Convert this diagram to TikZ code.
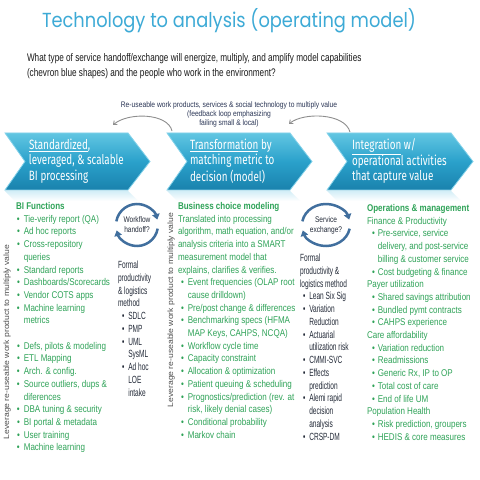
\documentclass[tikz,border=0pt]{standalone}
\usepackage{fontspec}
\setmainfont{Liberation Sans}
\usetikzlibrary{arrows.meta}
\newfontfamily\grfont[FakeStretch=0.82]{Liberation Sans}
\newfontfamily\dkfont[FakeStretch=0.63]{Liberation Sans}
\newfontfamily\qfont[FakeStretch=0.745]{Liberation Sans}
\newfontfamily\fbfont[FakeStretch=0.84]{Liberation Sans}
\newfontfamily\cyfont[FakeStretch=0.8]{Liberation Sans}
\newfontfamily\chevfont[FakeStretch=0.73]{Fira Sans}
\newfontfamily\titlefont{Poppins}
\definecolor{titleblue}{HTML}{3DAAD6}
\definecolor{grtext}{HTML}{2FA358}
\definecolor{dktext}{HTML}{232A38}
\definecolor{qtext}{HTML}{1A1A1A}
\definecolor{navytext}{HTML}{2B3656}
\definecolor{vtext}{HTML}{505050}
\definecolor{cyccol}{HTML}{416F9E}
\definecolor{fbgray}{HTML}{8E8E8E}
\definecolor{chtop}{HTML}{62C6E2}
\definecolor{chmid}{HTML}{2AA1CB}
\definecolor{chbot}{HTML}{1A82AD}
\definecolor{chedge}{HTML}{84D2EA}
\definecolor{chref}{HTML}{D3EEF7}
\newcommand{\ml}[1]{\multicolumn{2}{@{}l@{}}{#1}}
\newcommand{\bu}{\textbullet}
\tikzset{
  txt/.style={inner sep=0pt, outer sep=0pt, anchor=base west},
  grlist/.style={txt, text=grtext, font=\grfont\fontsize{9.8bp}{12.7bp}\selectfont},
  dklist/.style={txt, text=dktext, font=\dkfont\fontsize{10.4bp}{12.75bp}\selectfont},
  chevron/.style={top color=chtop, bottom color=chbot, middle color=chmid, draw=chedge, line width=0.8bp},
  chevref/.style={top color=chref, bottom color=white},
  chevtext/.style={txt, text=white, font=\chevfont\fontsize{13.5bp}{15.5bp}\selectfont},
  cycarrow/.style={draw=cyccol, line width=2.5bp, -{Triangle[length=5.5bp,width=7.5bp]}},
  cyctext/.style={inner sep=0pt, text=dktext, font=\cyfont\fontsize{8.2bp}{10bp}\selectfont, align=center},
  fbarrow/.style={draw=fbgray, line width=0.9bp, -{Straight Barb[length=3bp,width=5bp]}},
  vlabel/.style={inner sep=0pt, rotate=90, text=vtext, font=\fontsize{8.6bp}{10bp}\selectfont},
}
\begin{document}
\begin{tikzpicture}[x=1bp,y=-1bp]
\useasboundingbox[fill=white] (0,0) rectangle (480,480);

% title and question
\node[txt, text=titleblue] (title) at (42,27.3) {\resizebox{374bp}{19bp}{\titlefont Technology to analysis (operating model)}};
\node[txt, text=qtext, font=\qfont\fontsize{11bp}{15bp}\selectfont] (question) at (27,62) {\begin{tabular}[t]{@{}l@{}}What type of service handoff/exchange will energize, multiply, and amplify model capabilities\\(chevron blue shapes) and the people who work in the environment?\end{tabular}};

% feedback label and arrows
\node[inner sep=0pt, anchor=base, text=navytext, font=\fbfont\fontsize{8bp}{9bp}\selectfont] (feedback) at (229,107.5) {\begin{tabular}[t]{@{}c@{}}Re-useable work products, services \& social technology to multiply value\\(feedback loop emphasizing\\failing small \& local)\end{tabular}};
\coordinate (fbAs) at (172,131);
\coordinate (fbAe) at (113,125);
\coordinate (fbBs) at (350,132);
\coordinate (fbBe) at (289,124);
\draw[fbarrow] (fbAs) .. controls (168,113) and (128,112) .. (fbAe);
\draw[fbarrow] (fbBs) .. controls (345,113) and (303,112) .. (fbBe);

% chevron reflections
\path[chevref] (5,191) -- (128,191) -- (138,201) -- (15,201) -- cycle;
\path[chevref] (167,191) -- (290,191) -- (300,201) -- (177,201) -- cycle;
\path[chevref] (327,191) -- (451,191) -- (461,201) -- (337,201) -- cycle;
% chevrons
\path[chevron] (5,133) -- (128,133) -- (150,161.5) -- (128,190) -- (5,190) -- (25,161.5) -- cycle;
\path[chevron] (167,133) -- (290,133) -- (312,161.5) -- (290,190) -- (167,190) -- (187,161.5) -- cycle;
\path[chevron] (327,133) -- (451,133) -- (473,161.5) -- (451,190) -- (327,190) -- (347,161.5) -- cycle;
\node[chevtext] (chevA) at (29,149.5) {\begin{tabular}[t]{@{}l@{}}\underline{Standardized},\\leveraged, \& scalable\\BI processing\end{tabular}};
\node[chevtext] (chevB) at (190,149.5) {\begin{tabular}[t]{@{}l@{}}\underline{Transformation} by\\matching metric to\\decision (model)\end{tabular}};
\node[chevtext] (chevC) at (352,149.5) {\begin{tabular}[t]{@{}l@{}}\underline{Integration} w/\\operational activities\\that capture value\end{tabular}};

% cycle icons
\begin{scope}[shift={(137,225)},yscale=-1]
  \draw[cycarrow] (170:21) arc[start angle=170,end angle=15,radius=21];
  \draw[cycarrow] (-10:21) arc[start angle=-10,end angle=-165,radius=21];
  \node[cyctext] (workflow) at (0,0) {Workflow\\handoff?};
\end{scope}
\begin{scope}[shift={(326,225)},yscale=-1]
  \draw[cycarrow] (170:24 and 21) arc[start angle=170,end angle=15,x radius=24,y radius=21];
  \draw[cycarrow] (-10:24 and 21) arc[start angle=-10,end angle=-165,x radius=24,y radius=21];
  \node[cyctext] (service) at (0,0) {Service\\exchange?};
\end{scope}

% vertical labels
\node[vlabel] (vleft) at (7,342) {\scalebox{1}[0.9]{Leverage re-useable work product to multiply value}};
\node[vlabel] (vmid) at (171,310) {\scalebox{1}[0.9]{Leverage re-useable work product to multiply value}};

% left list
\node[grlist] (bifun) at (16,209.5) {\begin{tabular}[t]{@{\hspace{1bp}}l@{\hspace{4bp}}l@{}}
\ml{\bfseries BI Functions}\\
\bu & Tie-verify report (QA)\\
\bu & Ad hoc reports\\
\bu & Cross-repository\\
 & queries\\
\bu & Standard reports\\
\bu & Dashboards/Scorecards\\
\bu & Vendor COTS apps\\
\bu & Machine learning\\
 & metrics\\
 & \\
\bu & Defs, pilots \& modeling\\
\bu & ETL Mapping\\
\bu & Arch. \& config.\\
\bu & Source outliers, dups \&\\
 & diferences\\
\bu & DBA tuning \& security\\
\bu & BI portal \& metadata\\
\bu & User training\\
\bu & Machine learning
\end{tabular}};

% formal productivity (workflow)
\node[dklist] (formalA) at (118,268.5) {\begin{tabular}[t]{@{\hspace{4bp}}l@{\hspace{4bp}}l@{}}
\ml{Formal}\\
\ml{productivity}\\
\ml{\& logistics}\\
\ml{method}\\
\bu & SDLC\\
\bu & PMP\\
\bu & UML\\
 & SysML\\
\bu & Ad hoc\\
 & LOE\\
 & intake
\end{tabular}};

% middle list
\node[grlist] (business) at (178,209.5) {\begin{tabular}[t]{@{\hspace{3bp}}l@{\hspace{4bp}}l@{}}
\ml{\bfseries Business choice modeling}\\
\ml{Translated into processing}\\
\ml{algorithm, math equation, and/or}\\
\ml{analysis criteria into a SMART}\\
\ml{measurement model that}\\
\ml{explains, clarifies \& verifies.}\\
\bu & Event frequencies (OLAP root\\
 & cause drilldown)\\
\bu & Pre/post change \& differences\\
\bu & Benchmarking specs (HFMA\\
 & MAP Keys, CAHPS, NCQA)\\
\bu & Workflow cycle time\\
\bu & Capacity constraint\\
\bu & Allocation \& optimization\\
\bu & Patient queuing \& scheduling\\
\bu & Prognostics/prediction (rev. at\\
 & risk, likely denial cases)\\
\bu & Conditional probability\\
\bu & Markov chain
\end{tabular}};

% formal productivity (service)
\node[dklist] (formalB) at (300,261.5) {\begin{tabular}[t]{@{\hspace{3bp}}l@{\hspace{4bp}}l@{}}
\ml{Formal}\\
\ml{productivity \&}\\
\ml{logistics method}\\
\bu & Lean Six Sig\\
\bu & Variation\\
 & Reduction\\
\bu & Actuarial\\
 & utilization risk\\
\bu & CMMI-SVC\\
\bu & Effects\\
 & prediction\\
\bu & Alemi rapid\\
 & decision\\
 & analysis\\
\bu & CRSP-DM
\end{tabular}};

% right list
\node[grlist] (operations) at (367,211.5) {\begin{tabular}[t]{@{\hspace{5bp}}l@{\hspace{3bp}}l@{}}
\ml{\bfseries Operations \& management}\\
\ml{Finance \& Productivity}\\
\bu & Pre-service, service\\
 & delivery, and post-service\\
 & billing \& customer service\\
\bu & Cost budgeting \& finance\\
\ml{Payer utilization}\\
\bu & Shared savings attribution\\
\bu & Bundled pymt contracts\\
\bu & CAHPS experience\\
\ml{Care affordability}\\
\bu & Variation reduction\\
\bu & Readmissions\\
\bu & Generic Rx, IP to OP\\
\bu & Total cost of care\\
\bu & End of life UM\\
\ml{Population Health}\\
\bu & Risk prediction, groupers\\
\bu & HEDIS \& core measures
\end{tabular}};
\end{tikzpicture}
\end{document}
